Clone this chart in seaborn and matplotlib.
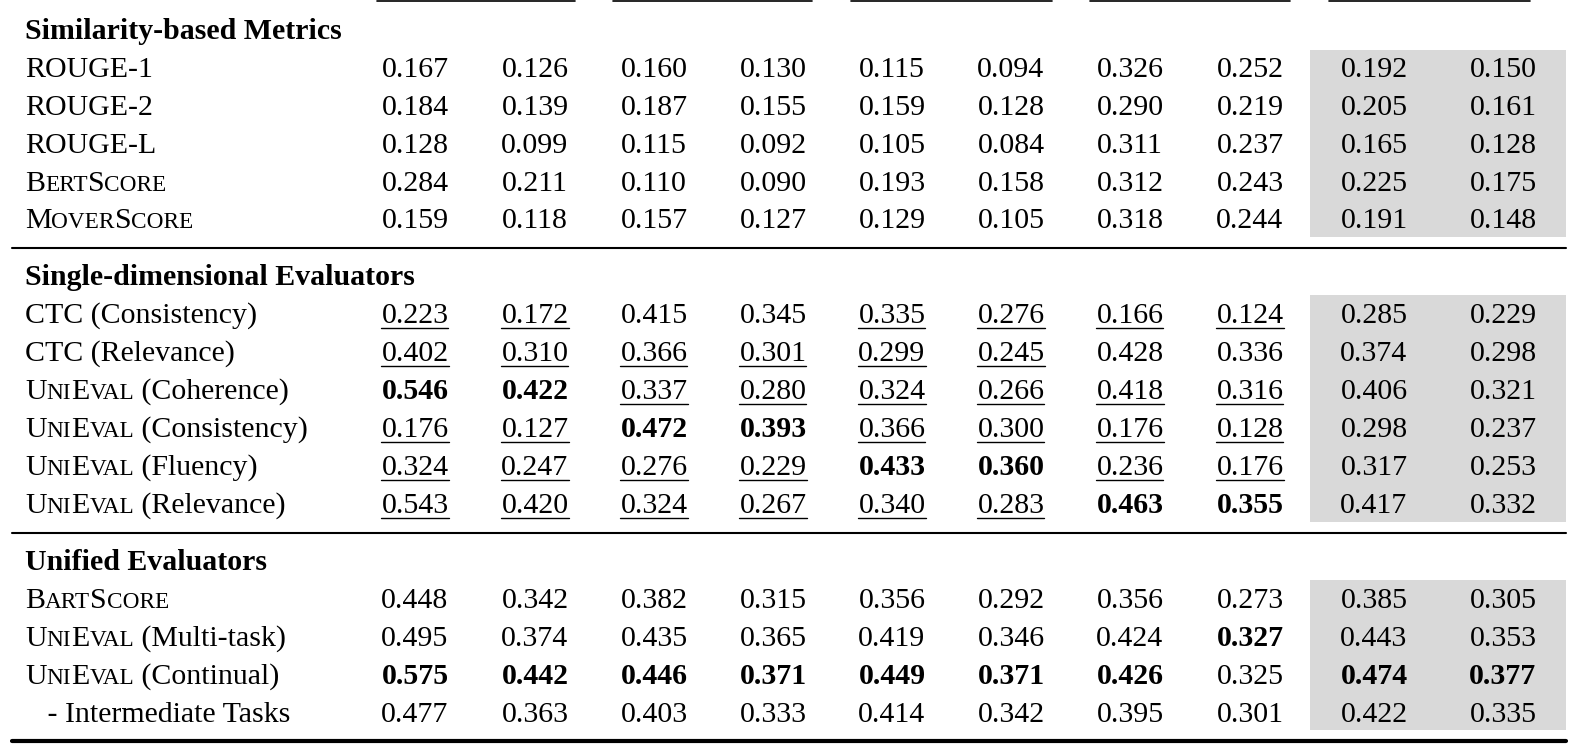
import matplotlib
matplotlib.use("Agg")
import matplotlib.pyplot as plt
import seaborn as sns
import numpy as np

sns.set_theme(style="white")
plt.rcParams['font.family'] = ['Liberation Serif', 'DejaVu Serif']
plt.rcParams['text.color'] = 'black'

sections = ["Similarity-based Metrics", "Single-dimensional Evaluators", "Unified Evaluators"]
names = [
    ["ROUGE-1", "ROUGE-2", "ROUGE-L", "BertScore", "MoverScore"],
    ["CTC (Consistency)", "CTC (Relevance)", "UniEval (Coherence)", "UniEval (Consistency)",
     "UniEval (Fluency)", "UniEval (Relevance)"],
    ["BartScore", "UniEval (Multi-task)", "UniEval (Continual)", "   - Intermediate Tasks"],
]
smallcap_names = {"BertScore", "MoverScore", "BartScore"}
values = [
    [[0.167,0.126,0.160,0.130,0.115,0.094,0.326,0.252,0.192,0.150],
     [0.184,0.139,0.187,0.155,0.159,0.128,0.290,0.219,0.205,0.161],
     [0.128,0.099,0.115,0.092,0.105,0.084,0.311,0.237,0.165,0.128],
     [0.284,0.211,0.110,0.090,0.193,0.158,0.312,0.243,0.225,0.175],
     [0.159,0.118,0.157,0.127,0.129,0.105,0.318,0.244,0.191,0.148]],
    [[0.223,0.172,0.415,0.345,0.335,0.276,0.166,0.124,0.285,0.229],
     [0.402,0.310,0.366,0.301,0.299,0.245,0.428,0.336,0.374,0.298],
     [0.546,0.422,0.337,0.280,0.324,0.266,0.418,0.316,0.406,0.321],
     [0.176,0.127,0.472,0.393,0.366,0.300,0.176,0.128,0.298,0.237],
     [0.324,0.247,0.276,0.229,0.433,0.360,0.236,0.176,0.317,0.253],
     [0.543,0.420,0.324,0.267,0.340,0.283,0.463,0.355,0.417,0.332]],
    [[0.448,0.342,0.382,0.315,0.356,0.292,0.356,0.273,0.385,0.305],
     [0.495,0.374,0.435,0.365,0.419,0.346,0.424,0.327,0.443,0.353],
     [0.575,0.442,0.446,0.371,0.449,0.371,0.426,0.325,0.474,0.377],
     [0.477,0.363,0.403,0.333,0.414,0.342,0.395,0.301,0.422,0.335]],
]
# style codes: '.' normal, 'b' bold, 'u' underline
styles = [
    ["..........", "..........", "..........", "..........", ".........."],
    ["uu..uuuu..", "uuuuuu....", "bbuuuuuu..", "uubbuuuu..", "uuuubbuu..", "uuuuuubb.."],
    ["..........", ".......b..", "bbbbbbb.bb", ".........."],
]

W, H = 1578, 749
fig = plt.figure(figsize=(W/100, H/100), dpi=100)
ax = fig.add_axes([0, 0, 1, 1])
ax.set_xlim(0, W); ax.set_ylim(H, 0); ax.axis("off")
r = fig.canvas.get_renderer()
FS = 21.5
col_x = [415, 535, 654, 773, 892, 1011, 1130, 1250, 1374, 1503]

def text_w(t):
    return t.get_window_extent(renderer=r).width

def draw_name(x, y, s):
    if s.startswith("UniEval"):
        parts = [("U", FS), ("NI", FS*0.78), ("E", FS), ("VAL", FS*0.78), (s[7:], FS)]
    elif s in smallcap_names:
        i = 4 if s.startswith(("Bert", "Bart")) else 5
        parts = [(s[0], FS), (s[1:i].upper(), FS*0.78), (s[i], FS), (s[i+1:].upper(), FS*0.78)]
    else:
        parts = [(s, FS)]
    for p, fs in parts:
        t = ax.text(x, y, p, fontsize=fs, va="baseline", ha="left", color="black")
        x += text_w(t)

for a, b in [(377,575),(613,812),(851,1052),(1090,1290),(1329,1530)]:
    ax.plot([a, b], [1, 1], color="black", lw=1.2)

sec_y = [30, 276, 561]
row_y = [[68,106,144,182,219],[314,352,390,428,466,504],[599,637,675,713]]
gray = [(50, 237), (295, 522), (580, 730)]
for (a, b) in gray:
    ax.add_patch(plt.Rectangle((1310, a), 256, b-a, color="#d9d9d9", lw=0, zorder=0))
for y in [248, 533]:
    ax.plot([12, 1566], [y, y], color="black", lw=1.5)
ax.plot([12, 1566], [741, 741], color="black", lw=3)

off = 9
for si, sec in enumerate(sections):
    ax.text(25, sec_y[si]+off, sec, fontsize=FS, fontweight="bold", va="baseline", color="black")
    for ri, nm in enumerate(names[si]):
        y = row_y[si][ri] + off
        draw_name(25, y, nm)
        for ci, v in enumerate(values[si][ri]):
            st = styles[si][ri][ci]
            t = ax.text(col_x[ci], y, f"{v:.3f}", fontsize=FS, ha="center", va="baseline",
                        color="black", fontweight="bold" if st == "b" else "normal")
            if st == "u":
                w = text_w(t)
                ax.plot([col_x[ci]-w/2, col_x[ci]+w/2], [y+5, y+5], color="black", lw=1)

fig.savefig("out.png", dpi=100)
